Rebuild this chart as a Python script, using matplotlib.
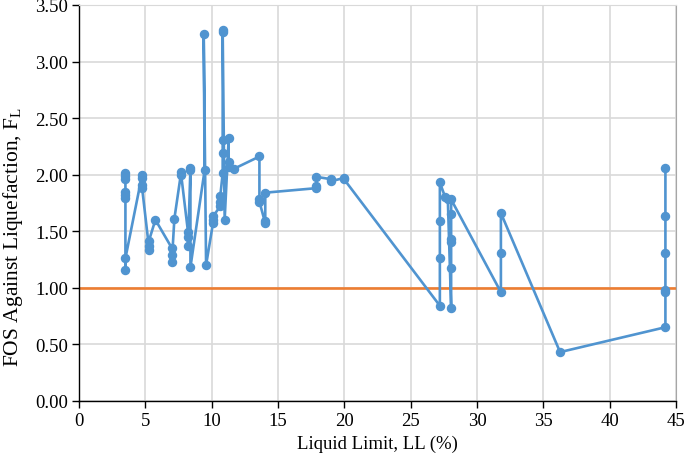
import matplotlib
matplotlib.use("Agg")
import matplotlib.pyplot as plt

plt.rcParams['font.family'] = ['Liberation Serif', 'DejaVu Serif']
plt.rcParams['mathtext.fontset'] = 'custom'
plt.rcParams['mathtext.rm'] = 'Liberation Serif'
plt.rcParams['mathtext.it'] = 'Liberation Serif'

liquid_limit = [
    3.5, 3.5, 3.5, 3.5, 3.5, 3.5, 3.5, 3.5,
    4.76, 4.76, 4.76, 4.76,
    5.26, 5.26, 5.26,
    5.76,
    7.0, 7.0, 7.0,
    7.19,
    7.7, 7.7,
    8.22, 8.22, 8.22,
    8.4, 8.4, 8.4,
    9.47, 9.4,
    9.58,
    10.1, 10.1, 10.1,
    10.65, 10.65, 10.65,
    10.83, 10.83, 10.83, 10.83, 10.83,
    10.98,
    11.28, 11.28, 11.28,
    11.66,
    13.6, 13.6, 13.6,
    14.04, 14.04, 14.04,
    17.9, 17.9, 17.9,
    18.96, 18.96,
    19.97, 19.97,
    27.2, 27.2, 27.2, 27.2,
    27.6, 27.8,
    28.05, 28.05, 28.05, 28.05, 28.05, 28.05,
    31.8, 31.8, 31.8,
    36.26,
    44.2, 44.2, 44.2, 44.2, 44.2, 44.2,
]
fos = [
    2.01, 1.99, 1.96, 1.85, 1.82, 1.79, 1.16, 1.26,
    2.00, 1.97, 1.91, 1.88,
    1.37, 1.33, 1.41,
    1.60,
    1.35, 1.29, 1.23,
    1.61,
    2.02, 2.00,
    1.49, 1.45, 1.37,
    2.06, 2.04, 1.18,
    2.04, 3.24,
    1.20,
    1.57, 1.60, 1.63,
    1.72, 1.76, 1.81,
    2.01, 2.19, 2.31, 3.26, 3.28,
    1.60,
    2.32, 2.11, 2.07,
    2.05,
    2.16, 1.78, 1.76,
    1.57, 1.59, 1.84,
    1.88, 1.90, 1.98,
    1.96, 1.94,
    1.97, 1.96,
    0.84, 1.26, 1.59, 1.93,
    1.80, 1.78,
    0.82, 1.17, 1.40, 1.43, 1.65, 1.78,
    0.96, 1.31, 1.66,
    0.43,
    0.65, 0.96, 0.98, 1.31, 1.63, 2.06,
]
threshold_x = [0, 45]
threshold_y = [1.0, 1.0]

x_ticks = [0, 5, 10, 15, 20, 25, 30, 35, 40, 45]
y_ticks = [0.0, 0.5, 1.0, 1.5, 2.0, 2.5, 3.0, 3.5]

fig = plt.figure(figsize=(6.85, 4.6), dpi=100)
ax = fig.add_axes([0.1153, 0.1267, 0.8716, 0.8603])

ax.plot(liquid_limit, fos, color='#5094D0', lw=1.9, marker='o', ms=5.8,
        zorder=3, clip_on=False)
ax.plot(threshold_x, threshold_y, color='#ED7D31', lw=1.9, zorder=2)

ax.set_xlim(0, 45)
ax.set_ylim(0, 3.5)
ax.set_xticks(x_ticks)
ax.set_yticks(y_ticks)
ax.set_xticklabels([str(t) for t in x_ticks])
ax.set_yticklabels([f"{t:.2f}" for t in y_ticks])
ax.grid(True, color='#D9D9D9', lw=1.2, zorder=0)
ax.set_axisbelow(True)

for s in ['left', 'bottom']:
    ax.spines[s].set_color('black')
    ax.spines[s].set_linewidth(1.0)
ax.spines['top'].set_color('#D9D9D9')
ax.spines['right'].set_color('#A6A6A6')
ax.tick_params(axis='both', direction='out', length=5, width=1,
               labelsize=13.5, color='black', labelcolor='black')
ax.tick_params(axis='x', pad=3)
ax.tick_params(axis='y', pad=3)

ax.set_xlabel('Liquid Limit, LL (%)', fontsize=13.5, labelpad=4)
ax.set_ylabel(r'FOS Against Liquefaction, F$_\mathrm{L}$', fontsize=15.5,
              va='center', ha='center')
ax.yaxis.set_label_coords(-0.111, 0.416)

fig.savefig('out.png', dpi=100)
